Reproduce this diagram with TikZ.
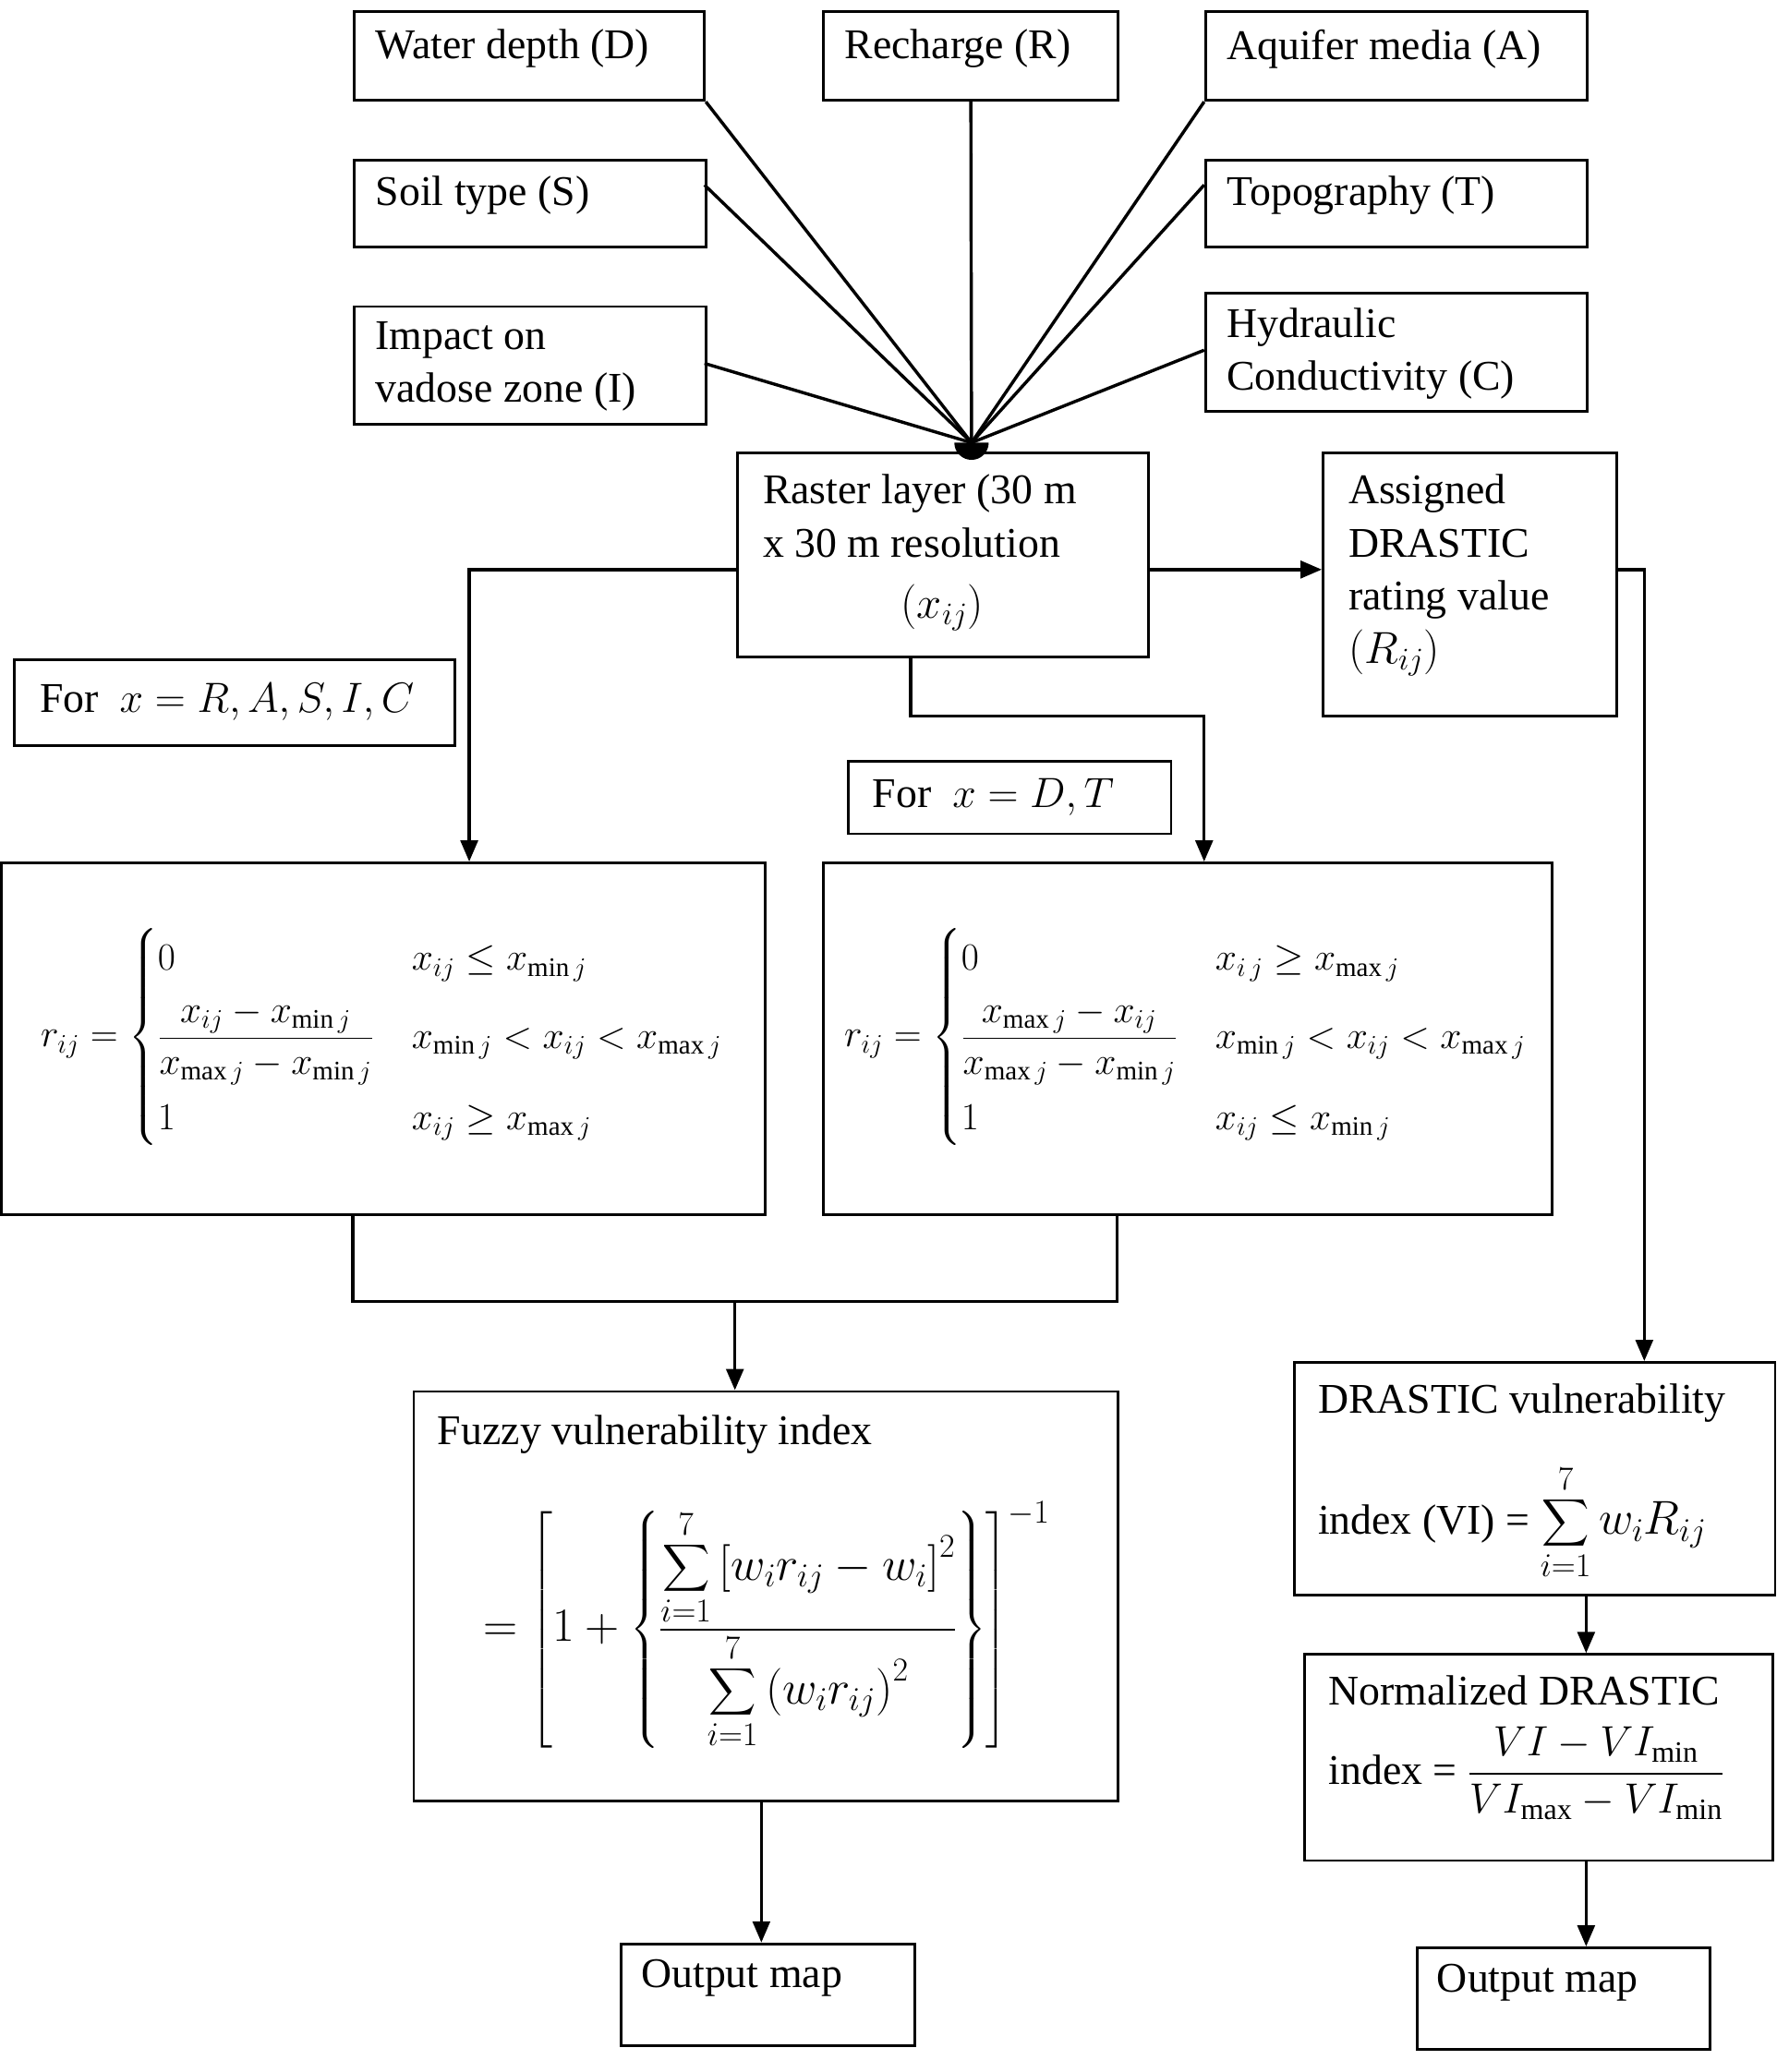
\RequirePackage{fix-cm}
\documentclass[tikz,border=0pt]{standalone}
\usepackage{amsmath}
\usepackage{fontspec}
\setmainfont{Liberation Serif}
\usetikzlibrary{arrows.meta,calc}
\begin{document}
\begin{tikzpicture}[x=1pt,y=-1pt,
 box/.style={draw,line width=2pt,anchor=north west,inner sep=0pt},
 txt/.style={anchor=north west,align=left,inner sep=0pt,font=\fontsize{32}{40}\selectfont},
 ln/.style={line width=2.4pt},
 ar/.style={line width=2.4pt,-{Triangle[length=16pt,width=13pt]}}]
\useasboundingbox (0,0) rectangle (1353,1568);
\fontsize{32}{40}\selectfont
% boxes
\node[box,minimum width=265pt,minimum height=67pt] (wd) at (267,8) {};
\node[box,minimum width=223pt,minimum height=67pt] (re) at (622,8) {};
\node[box,minimum width=289pt,minimum height=67pt] (aq) at (911,8) {};
\node[box,minimum width=266pt,minimum height=66pt] (so) at (267,120) {};
\node[box,minimum width=289pt,minimum height=66pt] (to) at (911,120) {};
\node[box,minimum width=266pt,minimum height=89pt] (im) at (267,231) {};
\node[box,minimum width=289pt,minimum height=89pt] (hy) at (911,221) {};
\node[txt] (t1) at (284,22) {Water depth (D)};
\node[txt] (t2) at (639,22) {Recharge (R)};
\node[txt] (t3) at (928,22) {Aquifer media (A)};
\node[txt] (t4) at (284,133) {Soil type (S)};
\node[txt] (t5) at (928,133) {Topography (T)};
\node[txt] (t6) at (284,243) {Impact on\\vadose zone (I)};
\node[txt] (t7) at (928,233) {Hydraulic\\Conductivity (C)};
\coordinate (c) at (735,335);
\fill (c) ++(-13,0) arc (180:0:13) -- cycle;
\coordinate (soe) at (533,140);
\coordinate (toe) at (911,140);
\coordinate (ime) at (533,275);
\coordinate (hye) at (911,265);
\draw[ln] (wd.south east) -- (c);
\draw[ln] (re.south) -- (c);
\draw[ln] (aq.south west) -- (c);
\draw[ln] (soe) -- (c);
\draw[ln] (toe) -- (c);
\draw[ln] (ime) -- (c);
\draw[ln] (hye) -- (c);
% raster
\node[box,minimum width=311pt,minimum height=154pt] (ra) at (557,342) {};
\node[txt] (t8) at (577,359) {Raster layer (30 m\\x 30 m resolution};
\node[font=\fontsize{34}{40}\selectfont] (t8b) at (713,460) {$\left(x_{ij}\right)$};
\node[box,minimum width=222pt,minimum height=199pt] (as) at (1000,342) {};
\node[txt] (t9) at (1020,359) {Assigned\\DRASTIC\\rating value};
\node[font=\fontsize{34}{40}\selectfont] (t9b) at (1055,494) {$\left(R_{ij}\right)$};
\draw[ar] (868,431) -- (as.west |- 0,431);
% for boxes
\node[box,minimum width=333pt,minimum height=65pt] (f1) at (10,498) {};
\node[txt,anchor=west] (t10) at (30,531) {For \ $x=R,A,S,I,C$};
\node[box,minimum width=244pt,minimum height=55pt] (f2) at (641,575) {};
\node[txt,anchor=west] (t11) at (660,603) {For \ $x=D,T$};
% formula boxes
\node[box,minimum width=578pt,minimum height=266pt] (l) at (0,652) {};
\node[box,minimum width=551pt,minimum height=266pt] (r) at (622,652) {};
\node[font=\fontsize{29}{40}\selectfont] (lf) at (289,785) {$r_{ij}=\begin{cases}0 & x_{ij}\le x_{\min j}\\[8pt] \dfrac{x_{ij}-x_{\min j}}{x_{\max j}-x_{\min j}} & x_{\min j}<x_{ij}<x_{\max j}\\[8pt] 1 & x_{ij}\ge x_{\max j}\end{cases}$};
\node[font=\fontsize{29}{40}\selectfont] (rf) at (897,785) {$r_{ij}=\begin{cases}0 & x_{i\,j}\ge x_{\max j}\\[8pt] \dfrac{x_{\max j}-x_{ij}}{x_{\max j}-x_{\min j}} & x_{\min j}<x_{ij}<x_{\max j}\\[8pt] 1 & x_{ij}\le x_{\min j}\end{cases}$};
\draw[ar] (ra.west |- 0,431) -| (l.north -| 355,0);
\draw[ar] (ra.south -| 689,0) -- (689,542) -| (r.north -| 911,0);
% merge
\coordinate (m) at (556,985);
\node[box,minimum width=533pt,minimum height=310pt] (fz) at (312,1052) {};
\draw[ln] (l.south -| 267,0) -- (267,985) -- (845,985) -- (r.south -| 845,0);
\draw[ar] (m) -- (fz.north -| 556,0);
\node[txt] (t12) at (331,1071) {Fuzzy vulnerability index};
\node[font=\fontsize{36}{44}\selectfont] (ff) at (580,1230) {$=\left[1+\left\{\dfrac{\displaystyle\sum_{i=1}^{7}\left[w_i r_{ij}-w_i\right]^2}{\displaystyle\sum_{i=1}^{7}\left(w_i r_{ij}\right)^2}\right\}\right]^{-1}$};
\node[box,minimum width=222pt,minimum height=77pt] (o1) at (469,1470) {};
\node[txt] (t13) at (485,1483) {Output map};
\draw[ar] (fz.south -| 576,0) -- (o1.north -| 576,0);
% right column
\node[box,minimum width=364pt,minimum height=176pt] (vi) at (978,1030) {};
\node[txt] (t14) at (997,1047) {DRASTIC vulnerability};
\node[txt,anchor=west] (t15) at (997,1152) {index (VI) = {\fontsize{36}{44}\selectfont$\displaystyle\sum_{i=1}^{7} w_i R_{ij}$}};
\draw[ar] (as.east |- 0,431) -- (1244,431) -- (vi.north -| 1244,0);
\node[box,minimum width=354pt,minimum height=156pt] (no) at (986,1251) {};
\node[txt] (t16) at (1005,1268) {Normalized DRASTIC};
\node[txt,anchor=west] (t17) at (1005,1342) {index = $\dfrac{VI-VI_{\min}}{VI_{\max}-VI_{\min}}$};
\draw[ar] (vi.south -| 1200,0) -- (no.north -| 1200,0);
\node[box,minimum width=222pt,minimum height=77pt] (o2) at (1071,1473) {};
\node[txt] (t18) at (1087,1486) {Output map};
\draw[ar] (no.south -| 1200,0) -- (o2.north -| 1200,0);
\end{tikzpicture}
\end{document}
